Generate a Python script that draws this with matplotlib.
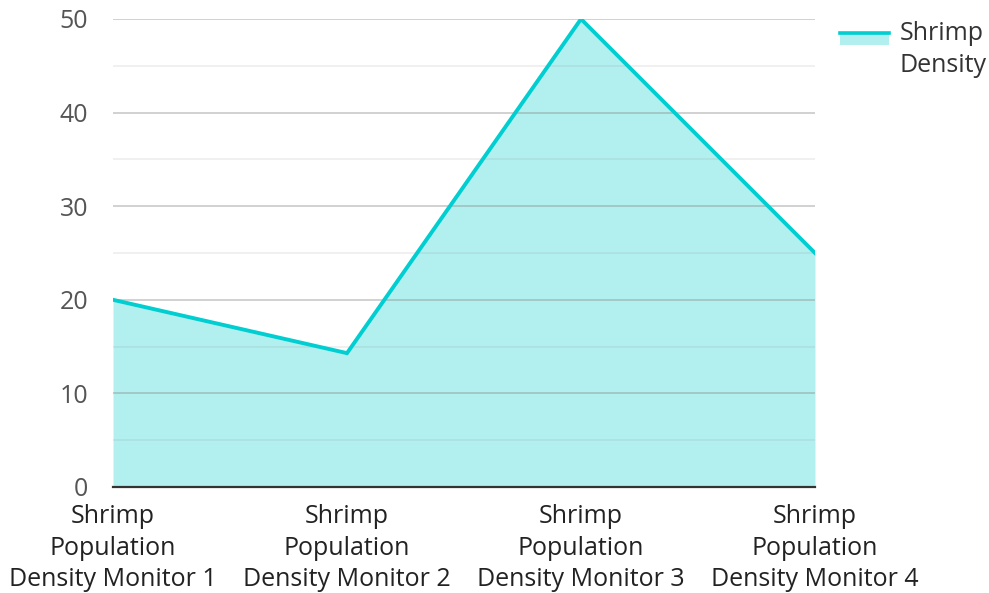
import matplotlib.pyplot as plt
from matplotlib.lines import Line2D
from matplotlib.patches import Rectangle
from matplotlib.legend_handler import HandlerBase

plt.rcParams['font.family'] = ['Open Sans', 'DejaVu Sans']

monitors = ['Shrimp\nPopulation\nDensity Monitor 1',
            'Shrimp\nPopulation\nDensity Monitor 2',
            'Shrimp\nPopulation\nDensity Monitor 3',
            'Shrimp\nPopulation\nDensity Monitor 4']
density = [20, 14.3, 50, 25]
series_name = 'Shrimp\nDensity'

line_color = '#00CED1'
fill_color = '#B2F0F0'


# legend key: thin line on top of a filled strip, lifted to the first text line
class AreaHandler(HandlerBase):
    def create_artists(self, legend, orig, xd, yd, w, h, fontsize, trans):
        lift = fontsize * 0.68
        y_line = yd + h * 0.5 + lift
        rect = Rectangle((xd, y_line - h * 0.65), w, h * 0.65,
                         facecolor=fill_color, edgecolor='none', transform=trans)
        ln = Line2D([xd, xd + w], [y_line] * 2, color=line_color,
                    lw=2.6, transform=trans)
        return [rect, ln]


fig = plt.figure(figsize=(9.89, 5.93), dpi=100)
ax = fig.add_axes([113 / 989, 106 / 593, 702 / 989, 468 / 593])

x = list(range(len(monitors)))
ax.fill_between(x, density, 0, color=fill_color, lw=0, zorder=1)
ax.plot(x, density, color=line_color, lw=2.8, zorder=3, solid_joinstyle='miter')

ax.set_xlim(0, 3)
ax.set_ylim(0, 50)
ax.set_yticks(range(0, 51, 10))
ax.set_yticks(range(5, 50, 10), minor=True)
ax.grid(axis='y', which='major', color='#888888', alpha=0.45, lw=1.2, zorder=2)
ax.grid(axis='y', which='minor', color='#888888', alpha=0.15, lw=1.2, zorder=2)
ax.set_axisbelow(False)

ax.set_xticks(x)
ax.set_xticklabels(monitors, fontsize=18, color='#222222', linespacing=1.36)
ax.tick_params(axis='y', which='both', length=0, pad=18, labelsize=18,
               labelcolor='#555555')
ax.tick_params(axis='x', length=0, pad=12)

for s in ['top', 'right', 'left']:
    ax.spines[s].set_visible(False)
ax.spines['bottom'].set_color('#333333')
ax.spines['bottom'].set_linewidth(1.6)
ax.spines['bottom'].set_zorder(4)

leg = fig.legend(handles=[Line2D([], [])], labels=[series_name],
                 handler_map={Line2D: AreaHandler()},
                 loc='upper left', bbox_to_anchor=(840 / 989, 1 - 21 / 593),
                 frameon=False, fontsize=18, handlelength=1.95,
                 handletextpad=0.45, borderpad=0, borderaxespad=0,
                 labelcolor='#333333')
for t in leg.get_texts():
    t.set_linespacing(1.36)

fig.savefig('out.png', dpi=100)
